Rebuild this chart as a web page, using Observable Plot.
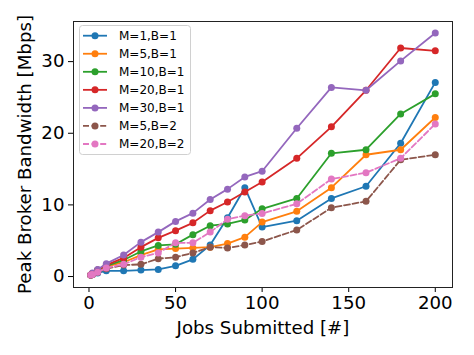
<!DOCTYPE html>
<html>
<head>
<meta charset="utf-8">
<script src="https://cdn.jsdelivr.net/npm/d3@7"></script>
<script src="https://cdn.jsdelivr.net/npm/@observablehq/plot@0.6"></script>
<style>
  body { margin: 0; background: white; }
  #wrap { position: relative; width: 474px; height: 355px; }
  #legend { position: absolute; left: 0; top: 0; }
</style>
</head>
<body>
<div id="wrap"></div>
<script>
const jobs = [1, 2, 5, 10, 20, 30, 40, 50, 60, 70, 80, 90, 100, 120, 140, 160, 180, 200];

const m1b1  = [0.2, 0.3, 0.5, 0.8, 0.8, 0.9, 1.0, 1.5, 2.4, 4.4, 8.2, 12.4, 6.9, 7.8, 10.9, 12.6, 18.6, 27.1];
const m5b1  = [0.2, 0.4, 0.8, 1.4, 2.0, 3.0, 3.8, 3.9, 4.0, 4.1, 4.6, 5.5, 7.6, 9.1, 12.4, 17.0, 17.7, 22.2];
const m10b1 = [0.2, 0.4, 0.9, 1.5, 2.3, 3.5, 4.35, 4.5, 5.85, 7.1, 7.35, 7.9, 9.45, 10.9, 17.2, 17.7, 22.7, 25.5];
const m20b1 = [0.2, 0.4, 0.9, 1.6, 2.6, 4.1, 5.4, 6.4, 7.5, 9.2, 10.4, 11.8, 13.2, 16.5, 20.9, 26.0, 31.9, 31.5];
const m30b1 = [0.2, 0.5, 1.0, 1.8, 3.0, 4.8, 6.2, 7.7, 8.85, 10.75, 12.2, 13.9, 14.7, 20.7, 26.4, 26.0, 30.1, 34.0];
const m5b2  = [0.2, 0.3, 0.6, 1.1, 1.6, 1.7, 2.5, 2.7, 3.3, 4.1, 4.0, 4.4, 4.9, 6.5, 9.6, 10.5, 16.3, 17.0];
const m20b2 = [0.2, 0.3, 0.6, 1.2, 1.7, 2.7, 3.3, 4.7, 4.7, 6.2, 8.0, 8.5, 8.8, 10.15, 13.6, 14.5, 16.5, 21.3];

const seriesNames = ["M=1,B=1", "M=5,B=1", "M=10,B=1", "M=20,B=1", "M=30,B=1", "M=5,B=2", "M=20,B=2"];
const seriesValues = [m1b1, m5b1, m10b1, m20b1, m30b1, m5b2, m20b2];
const seriesDashed = [false, false, false, false, false, true, true];
const colors = ["#1f77b4", "#ff7f0e", "#2ca02c", "#d62728", "#9467bd", "#8c564b", "#e377c2"];

const xTicks = [0, 50, 100, 150, 200];
const yTicks = [0, 10, 20, 30];

const FONT = "DejaVu Sans, sans-serif";

const marks = [
  Plot.axisX({ticks: xTicks, tickSize: 5, tickPadding: 4, fontSize: 18.2,
    label: "Jobs Submitted [#]", labelAnchor: "center", labelOffset: 46, labelArrow: "none"}),
  Plot.axisY({ticks: yTicks, tickSize: 5, tickPadding: 4, fontSize: 18.2,
    label: "Peak Broker Bandwidth [Mbps]", labelAnchor: "center", labelOffset: 55, labelArrow: "none"})
];

seriesNames.forEach((name, i) => {
  const rows = jobs.map((x, j) => ({x, y: seriesValues[i][j], series: name}));
  marks.push(Plot.line(rows, {x: "x", y: "y", stroke: "series", strokeWidth: 1.8,
    strokeDasharray: seriesDashed[i] ? "6,2.6" : null}));
  marks.push(Plot.dot(rows, {x: "x", y: "y", fill: "series", r: 3.5, stroke: "none"}));
});
marks.push(Plot.frame({stroke: "#222", strokeWidth: 1}));

const chart = Plot.plot({
  width: 474, height: 355,
  marginLeft: 73, marginRight: 22, marginTop: 21, marginBottom: 68,
  x: {domain: [-8.95, 209.95]},
  y: {domain: [-1.53, 35.6]},
  color: {domain: seriesNames, range: colors},
  style: {fontFamily: FONT, fontSize: "18.2px", color: "#000", background: "white"},
  marks
});
document.getElementById("wrap").appendChild(chart);

// Legend overlay, built from the series arrays
const lg = d3.select("#wrap").append("svg").attr("id", "legend")
  .attr("width", 474).attr("height", 355)
  .style("font-family", FONT);
const lx = 79, ly = 25, lw = 111, lh = 129, step = 18.05;
lg.append("rect").attr("x", lx + 0.5).attr("y", ly + 0.5).attr("width", lw).attr("height", lh)
  .attr("rx", 3).attr("fill", "white").attr("fill-opacity", 0.8).attr("stroke", "#d0d0d0");
seriesNames.forEach((name, i) => {
  const cy = ly + 10.7 + i * step;
  const g = lg.append("g");
  g.append("line").attr("x1", lx + 4).attr("x2", lx + 28).attr("y1", cy).attr("y2", cy)
    .attr("stroke", colors[i]).attr("stroke-width", 1.8)
    .attr("stroke-dasharray", seriesDashed[i] ? "6,2.6" : null);
  g.append("circle").attr("cx", lx + 16).attr("cy", cy).attr("r", 3.5).attr("fill", colors[i]);
  g.append("text").attr("x", lx + 40).attr("y", cy).attr("dy", "0.35em")
    .attr("font-size", 12).attr("fill", "#000").text(name);
});
</script>
</body>
</html>
